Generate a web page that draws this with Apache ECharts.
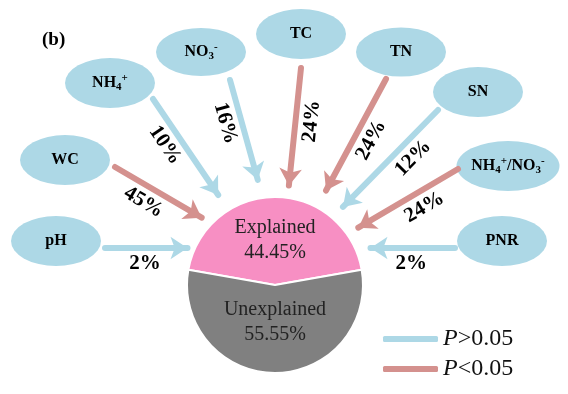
<!DOCTYPE html>
<html><head><meta charset="utf-8">
<script src="https://cdn.jsdelivr.net/npm/echarts@6/dist/echarts.min.js"></script>
<style>html,body{margin:0;padding:0;background:#fff}#c{width:568px;height:394px}</style>
</head><body><div id="c"></div>
<script>
// ---- data ----
const factors = ['pH', 'WC', 'NH4+', 'NO3-', 'TC', 'TN', 'SN', 'NH4+/NO3-', 'PNR'];
const contributions = [2, 45, 10, 16, 24, 24, 12, 24, 2];
const significant = [false, true, false, false, true, true, false, true, false]; // true: P<0.05
const pieNames = ['Explained', 'Unexplained'];
const pieValues = [44.45, 55.55];
const legendNames = ['P>0.05', 'P<0.05'];

// ---- layout (pixel positions, not data) ----
const nodeCenters = [[56,241],[65,160],[110,83],[201,52],[301,34],[401,52],[478,92],[508,166],[502,241]];
const nodeSizes = [[90,50],[90,50],[90,50],[90,48],[90,50],[90,49],[90,50],[103,50],[90,50]];
const arrowTail = [[105,248],[115,167],[153,99],[230,80],[301,68],[386,79],[438,110],[458,169],[455,248]];
const arrowTip = [[196,248],[209,222],[223,202],[260,188],[288,194],[322,198],[337,213],[351,232],[362,248]];
const labelFrac = [0.44,0.39,0.36,0.36,0.41,0.45,0.36,0.39,0.47];
const labelOffset = 16;
const pieCenter = [275, 285], pieRadius = 88;
const BLUE = '#ADD8E6', RED = '#D4918E', PINK = '#F78FC3', GRAY = '#808080';
const SERIF = '"Liberation Serif","Times New Roman",serif';
const ARROW = 17;

function richName(s) {
  return s.replace(/(\d)/g, '{sub|$1}').replace(/([+\-])/g, '{sup|$1}');
}
function arrowItem(i) {
  const [x1, y1] = arrowTail[i], [x2, y2] = arrowTip[i];
  const dx = x2 - x1, dy = y2 - y1, L = Math.hypot(dx, dy);
  return { coords: [[x1, y1], [x2 - dx / L * ARROW / 2, y2 - dy / L * ARROW / 2]] };
}
function pctLabelItem(i) {
  const [x1, y1] = arrowTail[i], [x2, y2] = arrowTip[i];
  const dx = x2 - x1, dy = y2 - y1;
  let a = Math.atan2(-dy, dx) * 180 / Math.PI;
  if (dx < 0) a += 180;
  if (a > 180) a -= 360;
  const r = a * Math.PI / 180;
  const f = labelFrac[i];
  const x = x1 + f * dx + labelOffset * Math.sin(r);
  const y = y1 + f * dy + labelOffset * Math.cos(r);
  return { value: [x, y], label: { rotate: a } };
}

const idxAll = factors.map((_, i) => i);
const chart = echarts.init(document.getElementById('c'), null, { renderer: 'canvas' });
chart.setOption({
  animation: false,
  backgroundColor: '#fff',
  title: { text: '(b)', left: 42, top: 31, padding: 0,
    textStyle: { fontFamily: SERIF, fontSize: 19, fontWeight: 'bold', color: '#000' } },
  grid: { left: 0, top: 0, right: 0, bottom: 0 },
  xAxis: { type: 'value', min: 0, max: 568, show: false },
  yAxis: { type: 'value', min: 0, max: 394, inverse: true, show: false },
  legend: {
    orient: 'vertical', left: 383, top: 327, padding: 0,
    itemWidth: 55, itemHeight: 6, itemGap: 6, icon: 'roundRect',
    selectedMode: false,
    data: [
      { name: legendNames[0], itemStyle: { color: BLUE, borderWidth: 0 } },
      { name: legendNames[1], itemStyle: { color: RED, borderWidth: 0 } }
    ],
    formatter: n => '{i|' + n.charAt(0) + '}{n|' + n.slice(1) + '}',
    textStyle: {
      fontFamily: SERIF, fontSize: 24, color: '#111',
      rich: {
        i: { fontFamily: SERIF, fontSize: 24, fontStyle: 'italic', color: '#111', lineHeight: 26 },
        n: { fontFamily: SERIF, fontSize: 24, color: '#111', lineHeight: 26 }
      }
    }
  },
  series: [
    {
      type: 'pie', center: pieCenter, radius: pieRadius,
      startAngle: 170, clockwise: true, silent: true, z: 1,
      itemStyle: { borderColor: '#fff', borderWidth: 2 },
      label: { show: true, position: 'inside', fontFamily: SERIF, fontSize: 20,
        lineHeight: 25, color: '#222',
        formatter: p => p.name + '\n' + p.value.toFixed(2) + '%' },
      labelLine: { show: false },
      data: [
        { name: pieNames[0], value: pieValues[0], itemStyle: { color: PINK }, label: { offset: [0, 2] } },
        { name: pieNames[1], value: pieValues[1], itemStyle: { color: GRAY }, label: { offset: [0, -10] } }
      ]
    },
    {
      name: 'nodes', type: 'scatter', symbol: 'circle', silent: true, z: 2,
      itemStyle: { color: BLUE, opacity: 1 },
      label: { show: true, position: 'inside', color: '#000', fontFamily: SERIF,
        fontSize: 16, fontWeight: 'bold', lineHeight: 20,
        formatter: p => richName(p.name),
        rich: {
          sub: { fontFamily: SERIF, fontSize: 11, fontWeight: 'bold', color: '#000', verticalAlign: 'bottom', lineHeight: 12 },
          sup: { fontFamily: SERIF, fontSize: 11, fontWeight: 'bold', color: '#000', verticalAlign: 'top', lineHeight: 10 }
        } },
      data: idxAll.map(i => ({ name: factors[i], value: nodeCenters[i], symbolSize: nodeSizes[i] }))
    },
    {
      name: legendNames[0], type: 'lines', coordinateSystem: 'cartesian2d', silent: true, z: 3,
      symbol: ['none', 'arrow'], symbolSize: ARROW,
      lineStyle: { color: BLUE, width: 6, opacity: 1, curveness: 0, cap: 'round' },
      data: idxAll.filter(i => !significant[i]).map(arrowItem)
    },
    {
      name: legendNames[1], type: 'lines', coordinateSystem: 'cartesian2d', silent: true, z: 3,
      symbol: ['none', 'arrow'], symbolSize: ARROW,
      lineStyle: { color: RED, width: 6, opacity: 1, curveness: 0, cap: 'round' },
      data: idxAll.filter(i => significant[i]).map(arrowItem)
    },
    {
      name: 'pct', type: 'scatter', symbolSize: 0, silent: true, z: 4,
      itemStyle: { opacity: 1 },
      label: { show: true, position: 'inside', color: '#000', opacity: 1, fontFamily: SERIF,
        fontSize: 21, fontWeight: 'bold',
        formatter: p => contributions[p.dataIndex] + '%' },
      data: idxAll.map(pctLabelItem)
    }
  ]
});
</script></body></html>
